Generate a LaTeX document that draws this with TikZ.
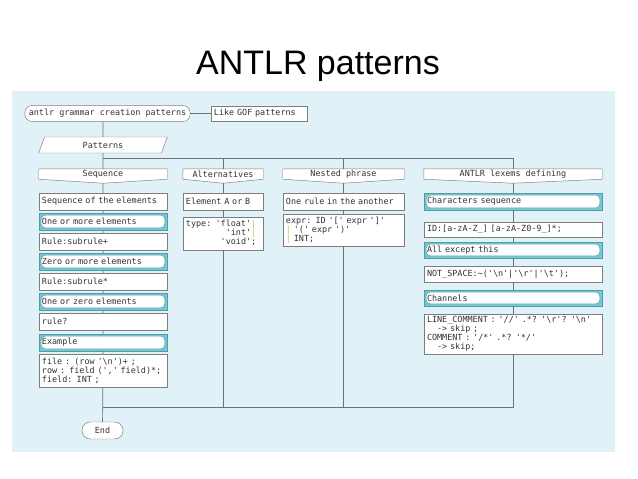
\documentclass[tikz,border=0pt]{standalone}
\usepackage{fontspec}
\setmainfont{Liberation Sans}
\setmonofont{DejaVu Sans Mono}
\usepackage{tikz}
\usetikzlibrary{shapes.geometric,backgrounds}
\definecolor{bgblue}{RGB}{224,241,247}
\definecolor{boxgray}{RGB}{125,125,125}
\definecolor{linegray}{RGB}{105,115,120}
\definecolor{tealfill}{RGB}{120,198,208}
\definecolor{tealline}{RGB}{78,158,168}
\definecolor{bargreen}{RGB}{180,205,100}
\definecolor{inkgray}{RGB}{50,50,50}
\newcommand{\codesize}{\ttfamily\fontsize{7.2}{7.6}\selectfont}
\newcommand{\bksl}{\textbackslash}
\tikzstyle{flow}=[draw=linegray, line width=0.6pt]
\tikzstyle{box}=[rectangle, draw=boxgray, fill=white, inner xsep=2.5pt, inner ysep=1pt, align=left, text=inkgray, font=\codesize]
\tikzstyle{hl}=[box, draw=tealline, fill=tealfill, path picture={\draw[tealline, fill=white, rounded corners=3.5pt] ([shift={(1.8pt,-1.8pt)}]path picture bounding box.north west) rectangle ([shift={(-1.8pt,1.8pt)}]path picture bounding box.south east);}]
\tikzstyle{hdr}=[rectangle, inner sep=0pt, minimum height=0.3cm, align=center, text=inkgray, font=\codesize]
\tikzstyle{hdrline}=[draw=boxgray, fill=white]
\tikzstyle{term}=[rectangle, draw=boxgray, fill=white, text=inkgray, font=\codesize]
\tikzstyle{io}=[trapezium, trapezium left angle=80, trapezium right angle=100, trapezium stretches=true, draw=boxgray, fill=white, text=inkgray, font=\codesize]
\tikzstyle{c1}=[text width=3.66cm]
\tikzstyle{c2}=[text width=2.22cm]
\tikzstyle{c3}=[text width=3.45cm]
\tikzstyle{c4}=[text width=5.16cm]

\begin{document}
\begin{tikzpicture}[x=0.03cm,y=-0.03cm]
				\useasboundingbox (0,0) rectangle (638,479);
				\begin{scope}[on background layer]
					\fill[bgblue] (12,91) rectangle (615,452);
				\end{scope}
				
				%The title
				\draw (318,75) node[anchor=base, font=\fontsize{29}{32}\selectfont] (title) {ANTLR patterns};
				
				%The start
				\draw (107.5,113.5) node[term, rounded corners=0.22cm, minimum width=4.83cm, minimum height=0.45cm] (start) {antlr grammar creation patterns};
				\draw (259,113.5) node[box, text width=2.70cm, minimum height=0.45cm] (gof) {Like GOF patterns};
				\draw (103,145) node[io, minimum width=3.87cm, minimum height=0.48cm] (patterns) {Patterns};
				\coordinate (split) at (103,158);
				
				%The headers
				\draw (103,174) node[hdr, minimum width=3.84cm] (seqhdr) {Sequence};
				\draw (223,174) node[hdr, minimum width=2.4cm] (althdr) {Alternatives};
				\draw (343.5,174) node[hdr, minimum width=3.63cm] (nesthdr) {Nested phrase};
				\draw (513,174) node[hdr, minimum width=5.34cm] (lexhdr) {ANTLR lexems defining};
				\coordinate (seqtip) at ([yshift=-3.4pt]seqhdr.south);
				\coordinate (alttip) at ([yshift=-3.4pt]althdr.south);
				\coordinate (nesttip) at ([yshift=-3.4pt]nesthdr.south);
				\coordinate (lextip) at ([yshift=-3.4pt]lexhdr.south);
				\begin{scope}[on background layer]
					\draw[hdrline] (seqhdr.north west) -- (seqhdr.north east) -- (seqhdr.south east) -- (seqtip) -- (seqhdr.south west) -- cycle;
					\draw[hdrline] (althdr.north west) -- (althdr.north east) -- (althdr.south east) -- (alttip) -- (althdr.south west) -- cycle;
					\draw[hdrline] (nesthdr.north west) -- (nesthdr.north east) -- (nesthdr.south east) -- (nesttip) -- (nesthdr.south west) -- cycle;
					\draw[hdrline] (lexhdr.north west) -- (lexhdr.north east) -- (lexhdr.south east) -- (lextip) -- (lexhdr.south west) -- cycle;
				\end{scope}
				
				%Sequence column
				\draw (103,201.5) node[box, c1, minimum height=0.51cm] (seqel) {Sequence of the elements};
				\draw (103,221.5) node[hl, c1, minimum height=0.51cm] (onemore) {One or more elements};
				\draw (103,241.5) node[box, c1, minimum height=0.51cm] (subplus) {Rule:subrule+};
				\draw (103,261.5) node[hl, c1, minimum height=0.51cm] (zeromore) {Zero or more elements};
				\draw (103,281.5) node[box, c1, minimum height=0.51cm] (substar) {Rule:subrule*};
				\draw (103,301.5) node[hl, c1, minimum height=0.51cm] (onezero) {One or zero elements};
				\draw (103,321.5) node[box, c1, minimum height=0.51cm] (ruleq) {rule?};
				\draw (103,342.5) node[hl, c1, minimum height=0.51cm] (example) {Example};
				\draw (103,370.5) node[box, c1, minimum height=0.99cm] (filebox) {file : (row '\bksl n')+ ;\\row : field (',' field)*;\\field: INT ;};
				
				%Alternatives column
				\draw (223,201.5) node[box, c2, minimum height=0.51cm] (elem) {Element A or B};
				\draw (223,233.5) node[box, c2, minimum height=0.99cm] (typebox) {type: 'float'\textcolor{bargreen}{|}\\\phantom{type: 'f}'int'\textcolor{bargreen}{|}\\\phantom{type: '}'void';};
				
				%Nested phrase column
				\draw (343.5,201.5) node[box, c3, minimum height=0.51cm] (onerule) {One rule in the another};
				\draw (343.5,230) node[box, c3, minimum height=0.96cm] (exprbox) {expr: ID '[' expr ']'\\\textcolor{bargreen}{|} '(' expr ')'\\\textcolor{bargreen}{|} INT;};
				
				%Lexems column
				\draw (513,201.5) node[hl, c4, minimum height=0.51cm] (chars) {Characters sequence};
				\draw (513,229.5) node[box, c4, minimum height=0.46cm] (idbox) {ID:[a-zA-Z\_] [a-zA-Z0-9\_]*;};
				\draw (513,250) node[hl, c4, minimum height=0.48cm] (allexc) {All except this};
				\draw (513,274) node[box, c4, minimum height=0.48cm] (notsp) {NOT\_SPACE:\textasciitilde('\bksl n'|'\bksl r'|'\bksl t');};
				\draw (513,298) node[hl, c4, minimum height=0.48cm] (channels) {Channels};
				\draw (513,334) node[box, c4, minimum height=1.2cm] (linec) {LINE\_COMMENT : '//' .*? '\bksl r'? '\bksl n'\\\phantom{xx}-> skip ;\\COMMENT : '/*' .*? '*/'\\\phantom{xx}-> skip;};
				
				%The end
				\draw (102.5,430.5) node[term, rounded corners=0.25cm, minimum width=1.23cm, minimum height=0.51cm] (end) {End};
				\coordinate (merge) at (103,407);
				
				%Connectors
				\draw[flow] (start) -- (gof);
				\draw[flow] (patterns |- start.south) -- (patterns);
				\draw[flow] (patterns) -- (seqhdr);
				\draw[flow] (split) -| (althdr);
				\draw[flow] (split) -| (nesthdr);
				\draw[flow] (split) -| (lexhdr);
				
				\draw[flow] (seqtip) -- (seqel) -- (onemore) -- (subplus) -- (zeromore) -- (substar) -- (onezero) -- (ruleq) -- (example) -- (filebox) -- (end);
				\draw[flow] (alttip) -- (elem) -- (typebox);
				\draw[flow] (nesttip) -- (onerule) -- (exprbox);
				\draw[flow] (lextip) -- (chars) -- (idbox) -- (allexc) -- (notsp) -- (channels) -- (linec);
				
				\draw[flow] (typebox) |- (merge);
				\draw[flow] (exprbox) |- (merge);
				\draw[flow] (linec) |- (merge);
			\end{tikzpicture}
\end{document}
